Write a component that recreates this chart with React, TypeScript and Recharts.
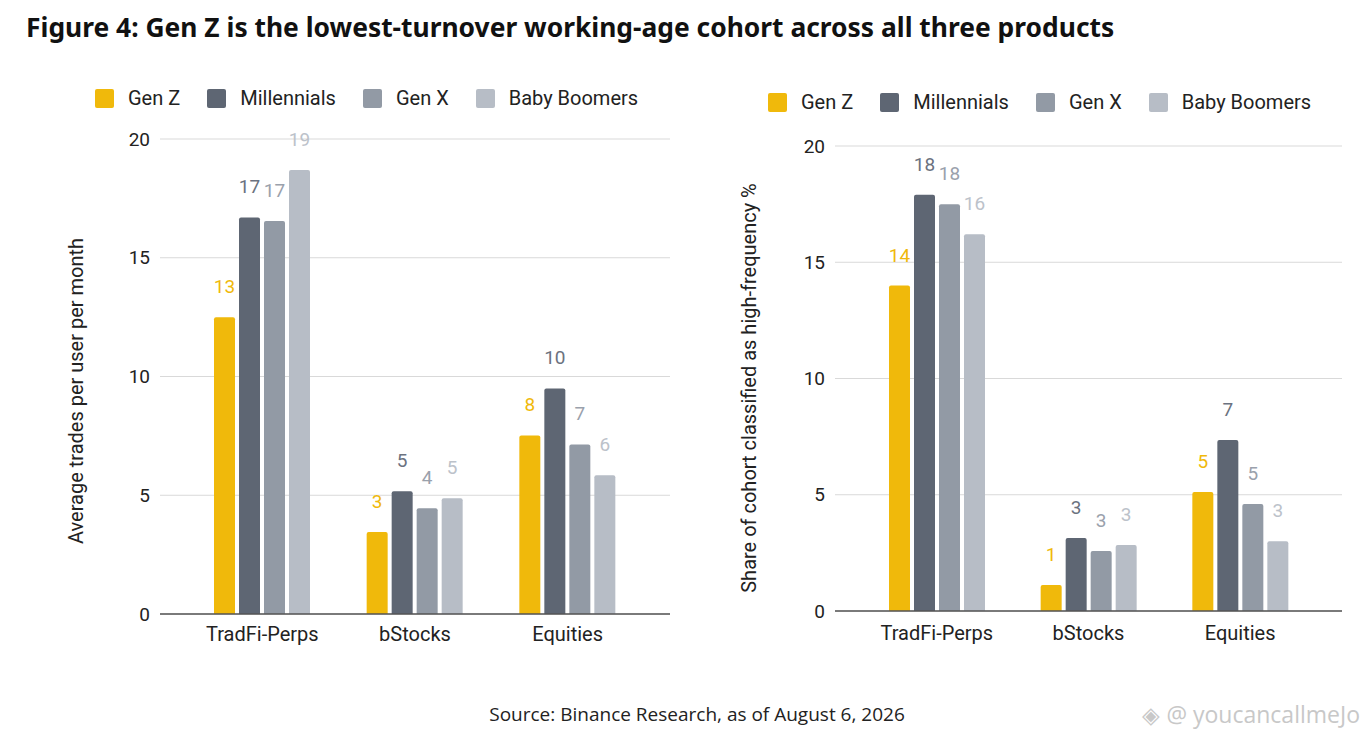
import { BarChart, Bar, XAxis, YAxis, CartesianGrid, LabelList } from "recharts";

const categories = ["TradFi-Perps", "bStocks", "Equities"];
const cohortNames = ["Gen Z", "Millennials", "Gen X", "Baby Boomers"];

// average trades per user per month
const tradesGenZ = [12.5, 3.45, 7.52];
const tradesMillennials = [16.7, 5.17, 9.5];
const tradesGenX = [16.55, 4.45, 7.14];
const tradesBoomers = [18.7, 4.87, 5.84];

// share of cohort classified as high-frequency %
const hfGenZ = [14.0, 1.12, 5.12];
const hfMillennials = [17.9, 3.14, 7.35];
const hfGenX = [17.5, 2.58, 4.6];
const hfBoomers = [16.2, 2.84, 3.0];

const yTicks = [0, 5, 10, 15, 20];

const barColors = ["#F0B90B", "#5E6673", "#929AA5", "#B7BDC6"];
const labelColors = ["#F0B90B", "#6B7280", "#9AA1AC", "#BCC2CA"];

const FONT = "Roboto, 'Liberation Sans', Arial, sans-serif";

function buildRows(series: number[][]) {
  return categories.map((category, i) => {
    const row: Record<string, string | number> = { category };
    cohortNames.forEach((name, s) => {
      row[name] = series[s][i];
    });
    return row;
  });
}

const tradesData = buildRows([tradesGenZ, tradesMillennials, tradesGenX, tradesBoomers]);
const hfData = buildRows([hfGenZ, hfMillennials, hfGenX, hfBoomers]);

function Legend({ left, top }: { left: number; top: number }) {
  return (
    <div
      style={{
        position: "absolute",
        left,
        top,
        height: 20,
        display: "flex",
        alignItems: "center",
        fontFamily: FONT,
        fontSize: 20,
        color: "#222",
        whiteSpace: "nowrap",
      }}
    >
      {cohortNames.map((name, i) => (
        <div key={name} style={{ display: "flex", alignItems: "center", marginRight: 27 }}>
          <span
            style={{
              display: "inline-block",
              width: 19,
              height: 19,
              borderRadius: 2,
              backgroundColor: barColors[i],
              marginRight: 14,
            }}
          />
          <span>{name}</span>
        </div>
      ))}
    </div>
  );
}

interface CohortChartProps {
  data: Record<string, string | number>[];
  yLabel: string;
  width: number;
  margin: { top: number; right: number; bottom: number; left: number };
  tickGap: number;
  labelX: number;
  labelY: number;
}

function CohortChart({ data, yLabel, width, margin, tickGap, labelX, labelY }: CohortChartProps) {
  return (
    <BarChart
      width={width}
      height={738}
      data={data}
      margin={margin}
      barSize={21}
      barGap={4}
      style={{ fontFamily: FONT }}
    >
      <CartesianGrid vertical={false} stroke="#d9d9d9" />
      <XAxis
        dataKey="category"
        tickLine={false}
        tickSize={0}
        tickMargin={tickGap}
        axisLine={{ stroke: "#555", strokeWidth: 1.5 }}
        tick={{ fill: "#222", fontSize: 20 }}
        padding={{ left: 26, right: 26 }}
      />
      <YAxis
        domain={[0, 20]}
        ticks={yTicks}
        axisLine={false}
        tickLine={false}
        tickSize={0}
        tickMargin={10}
        width={60}
        tick={{ fill: "#222", fontSize: 19 }}
        label={{
          content: () => (
            <text
              x={labelX}
              y={labelY}
              transform={`rotate(-90 ${labelX} ${labelY})`}
              textAnchor="middle"
              dominantBaseline="middle"
              fill="#222"
              fontSize={20}
              fontFamily={FONT}
            >
              {yLabel}
            </text>
          ),
        }}
      />
      {cohortNames.map((name, i) => (
        <Bar
          key={name}
          dataKey={name}
          fill={barColors[i]}
          radius={[2, 2, 0, 0]}
          isAnimationActive={false}
        >
          <LabelList
            dataKey={name}
            position="top"
            offset={24}
            formatter={(v: unknown) => Math.round(Number(v))}
            fill={labelColors[i]}
            fontSize={19}
          />
        </Bar>
      ))}
    </BarChart>
  );
}

export default function App() {
  return (
    <div
      style={{
        position: "absolute",
        left: 0,
        top: 0,
        width: 1368,
        height: 738,
        background: "#fff",
        overflow: "hidden",
      }}
    >
      <div
        style={{
          position: "absolute",
          left: 26,
          top: 9,
          fontFamily: "'Noto Sans', 'Open Sans', sans-serif",
          fontWeight: 700,
          fontSize: 26.4,
          color: "#111",
          whiteSpace: "nowrap",
        }}
      >
        Figure 4: Gen Z is the lowest-turnover working-age cohort across all three products
      </div>

      <div style={{ position: "absolute", left: 0, top: 0 }}>
        <CohortChart
          data={tradesData}
          yLabel="Average trades per user per month"
          width={700}
          margin={{ top: 139, right: 30, bottom: 94, left: 100 }}
          tickGap={13}
          labelX={78}
          labelY={391}
        />
      </div>
      <div style={{ position: "absolute", left: 680, top: 0 }}>
        <CohortChart
          data={hfData}
          yLabel="Share of cohort classified as high-frequency %"
          width={688}
          margin={{ top: 146, right: 26, bottom: 97, left: 95 }}
          tickGap={15}
          labelX={71}
          labelY={388}
        />
      </div>

      <Legend left={95} top={88} />
      <Legend left={768} top={92} />

      <div
        style={{
          position: "absolute",
          left: 0,
          width: 1394,
          top: 701,
          textAlign: "center",
          fontFamily: "'Open Sans', 'Noto Sans', sans-serif",
          fontSize: 19,
          color: "#222",
        }}
      >
        Source: Binance Research, as of August 6, 2026
      </div>
      <div
        style={{
          position: "absolute",
          right: 8,
          top: 698,
          fontFamily: "'Open Sans', sans-serif",
          fontSize: 23,
          color: "#c8c8c8",
          whiteSpace: "nowrap",
        }}
      >
        ◈ @ youcancallmeJo
      </div>
    </div>
  );
}
